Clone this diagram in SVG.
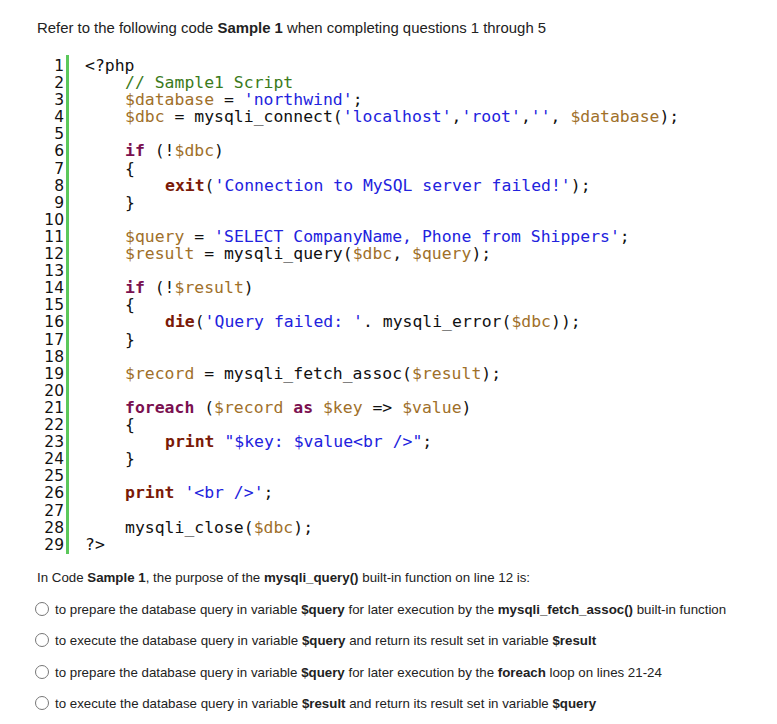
<svg xmlns="http://www.w3.org/2000/svg" width="777" height="724" viewBox="0 0 777 724">
<style>
.s{font-family:"Liberation Sans",Arial,sans-serif;font-size:13.3px;fill:#222}
.n{font-family:"DejaVu Sans",sans-serif;font-size:15.5px;fill:#111;text-anchor:end}
.c{font-family:"DejaVu Sans Mono",monospace;font-size:16.45px;fill:#111;white-space:pre}
.v{fill:#a0702a}.t{fill:#2222dd}.k{fill:#7a1050;font-weight:bold}.f{fill:#7a1a08;font-weight:bold}.g{fill:#3a7a1a}
.b{font-weight:bold}
.o{fill:#fff;stroke:#777;stroke-width:1}
</style>
<rect width="777" height="724" fill="#fff"/>
<text class="s" x="37" y="33" style="font-size:14.9px">Refer to the following code <tspan class="b">Sample 1</tspan> when completing questions 1 through 5</text>
<rect x="66" y="55" width="3" height="499" fill="#5bc85b"/>
<g id="nums">
<text class="n" x="64" y="71">1</text><text class="n" x="64" y="88">2</text><text class="n" x="64" y="105">3</text><text class="n" x="64" y="122">4</text><text class="n" x="64" y="139">5</text><text class="n" x="64" y="156">6</text><text class="n" x="64" y="174">7</text><text class="n" x="64" y="191">8</text><text class="n" x="64" y="208">9</text><text class="n" x="64" y="225">10</text><text class="n" x="64" y="242">11</text><text class="n" x="64" y="259">12</text><text class="n" x="64" y="276">13</text><text class="n" x="64" y="293">14</text><text class="n" x="64" y="310">15</text><text class="n" x="64" y="327">16</text><text class="n" x="64" y="345">17</text><text class="n" x="64" y="362">18</text><text class="n" x="64" y="379">19</text><text class="n" x="64" y="396">20</text><text class="n" x="64" y="413">21</text><text class="n" x="64" y="430">22</text><text class="n" x="64" y="447">23</text><text class="n" x="64" y="464">24</text><text class="n" x="64" y="481">25</text><text class="n" x="64" y="498">26</text><text class="n" x="64" y="516">27</text><text class="n" x="64" y="533">28</text><text class="n" x="64" y="550">29</text>
</g>
<g id="code">
<text class="c" x="85" y="71">&lt;?php</text>
<text class="c" x="125" y="88"><tspan class="g">// Sample1 Script</tspan></text>
<text class="c" x="125" y="105"><tspan class="v">$database</tspan> = <tspan class="t">'northwind'</tspan>;</text>
<text class="c" x="125" y="122"><tspan class="v">$dbc</tspan> = mysqli_connect(<tspan class="t">'localhost'</tspan>,<tspan class="t">'root'</tspan>,<tspan class="t">''</tspan>, <tspan class="v">$database</tspan>);</text>
<text class="c" x="125" y="156"><tspan class="k">if</tspan> (!<tspan class="v">$dbc</tspan>)</text>
<text class="c" x="125" y="174">{</text>
<text class="c" x="165" y="191"><tspan class="f">exit</tspan>(<tspan class="t">'Connection to MySQL server failed!'</tspan>);</text>
<text class="c" x="125" y="208">}</text>
<text class="c" x="125" y="242"><tspan class="v">$query</tspan> = <tspan class="t">'SELECT CompanyName, Phone from Shippers'</tspan>;</text>
<text class="c" x="125" y="259"><tspan class="v">$result</tspan> = mysqli_query(<tspan class="v">$dbc</tspan>, <tspan class="v">$query</tspan>);</text>
<text class="c" x="125" y="293"><tspan class="k">if</tspan> (!<tspan class="v">$result</tspan>)</text>
<text class="c" x="125" y="310">{</text>
<text class="c" x="165" y="327"><tspan class="f">die</tspan>(<tspan class="t">'Query failed: '</tspan>. mysqli_error(<tspan class="v">$dbc</tspan>));</text>
<text class="c" x="125" y="345">}</text>
<text class="c" x="125" y="379"><tspan class="v">$record</tspan> = mysqli_fetch_assoc(<tspan class="v">$result</tspan>);</text>
<text class="c" x="125" y="413"><tspan class="k">foreach</tspan> (<tspan class="v">$record</tspan> <tspan class="k">as</tspan> <tspan class="v">$key</tspan> =&gt; <tspan class="v">$value</tspan>)</text>
<text class="c" x="125" y="430">{</text>
<text class="c" x="165" y="447"><tspan class="f">print</tspan> <tspan class="t">"$key: $value&lt;br /&gt;"</tspan>;</text>
<text class="c" x="125" y="464">}</text>
<text class="c" x="125" y="498"><tspan class="f">print</tspan> <tspan class="t">'&lt;br /&gt;'</tspan>;</text>
<text class="c" x="125" y="533">mysqli_close(<tspan class="v">$dbc</tspan>);</text>
<text class="c" x="85" y="550">?&gt;</text>
</g>
<text class="s" x="37" y="582">In Code <tspan class="b">Sample 1</tspan>, the purpose of the <tspan class="b">mysqli_query()</tspan> built-in function on line 12 is:</text>
<g id="opts">
<circle class="o" cx="42" cy="609" r="6.5"/>
<text class="s" x="55" y="614">to prepare the database query in variable <tspan class="b">$query</tspan> for later execution by the <tspan class="b">mysqli_fetch_assoc()</tspan> built-in function</text>
<circle class="o" cx="42" cy="640" r="6.5"/>
<text class="s" x="55" y="645">to execute the database query in variable <tspan class="b">$query</tspan> and return its result set in variable <tspan class="b">$result</tspan></text>
<circle class="o" cx="42" cy="672" r="6.5"/>
<text class="s" x="55" y="677">to prepare the database query in variable <tspan class="b">$query</tspan> for later execution by the <tspan class="b">foreach</tspan> loop on lines 21-24</text>
<circle class="o" cx="42" cy="703" r="6.5"/>
<text class="s" x="55" y="708">to execute the database query in variable <tspan class="b">$result</tspan> and return its result set in variable <tspan class="b">$query</tspan></text>
</g>
</svg>
